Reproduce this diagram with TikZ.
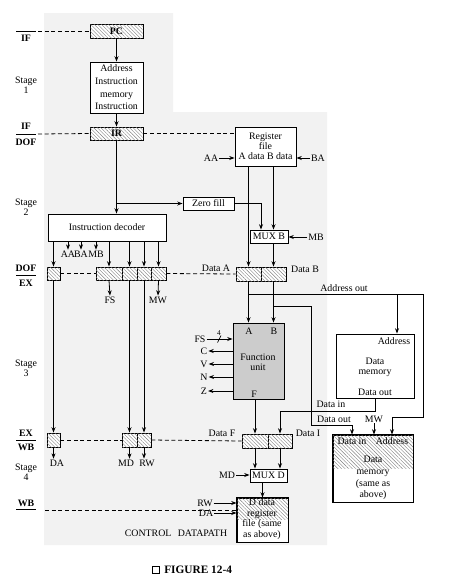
\documentclass[tikz,border=0pt]{standalone}
\usepackage{fontspec}
\setmainfont{Liberation Serif}
\usetikzlibrary{arrows.meta,patterns.meta,calc}
\newcommand\dg{\fontsize{7.4}{8.4}\selectfont}
\newcommand\bx[7]{\node[#6, minimum width={(#4-#2)*0.75pt}, minimum height={(#5-#3)*0.75pt}] (#1) at ({(#2+#4)/2},{(#3+#5)/2}) {#7};}
\tikzset{
 bxs/.style={draw, line width=0.7pt, fill=white, inner sep=0pt, align=center},
 hatchpat/.style={pattern={Lines[angle=-45,distance=1.9pt,line width=0.3pt]}, pattern color=black!50},
 hatch/.style={bxs, postaction={hatchpat}},
 arr/.style={line width=0.6pt, -{Stealth[length=4pt,width=3pt]}},
 ln/.style={line width=0.6pt},
 pipe/.style={line width=0.6pt, dash pattern=on 3pt off 2pt},
 lbl/.style={inner sep=0.6pt, align=center},
 stg/.style={lbl, font=\fontsize{7.4}{7.6}\selectfont},
 sep/.style={lbl, font=\dg\bfseries},
}
\begin{document}
\begin{tikzpicture}[x=0.75pt,y=-0.75pt,font=\dg]
\useasboundingbox (0,0) rectangle (465,575);
\fill[black!5] (44,13) -- (173,13) -- (173,112) -- (327,112) -- (327,545) -- (44,545) -- cycle;

% ---- left stage labels
\node[sep] (lif) at (26,38) {IF};
\draw[ln] (16,31) -- (36,31);
\node[stg] (st1) at (26,85) {Stage\\1};
\node[sep] (lif2) at (26,126) {IF};
\draw[ln] (16,134) -- (36,134);
\node[sep] (ldof) at (26,142) {DOF};
\node[stg] (st2) at (26,207) {Stage\\2};
\node[sep] (ldof2) at (26,268) {DOF};
\draw[ln] (16,275) -- (36,275);
\node[sep] (lex) at (26,283) {EX};
\node[stg] (st3) at (26,368) {Stage\\3};
\node[sep] (lex2) at (26,433) {EX};
\draw[ln] (16,440) -- (36,440);
\node[sep] (lwb) at (26,447) {WB};
\node[stg] (st4) at (26,472) {Stage\\4};
\node[sep] (lwb2) at (26,503) {WB};
\draw[ln] (16,509) -- (36,509);

% ---- boxes
\bx{pc}{90}{24}{143}{38}{hatch,font=\dg\bfseries}{PC}
\bx{imem}{90}{62}{143}{113}{bxs,font=\fontsize{7.4}{9.5}\selectfont}{Address\\Instruction\\memory\\Instruction}
\bx{ir}{90}{127}{143}{140}{hatch,font=\dg\bfseries}{IR}
\bx{regfile}{235}{127}{296}{166}{bxs,font=\fontsize{7.4}{7.6}\selectfont}{Register\\file\\A data B data}
\bx{zf}{183}{197}{234}{210}{bxs}{Zero fill}
\bx{muxb}{250}{230}{288}{243}{bxs}{MUX B}
\bx{dec}{48}{214}{166}{241}{bxs}{Instruction decoder}
\bx{sma}{47}{267}{60}{280}{hatch}{}
\bx{fsr}{96}{267}{122}{280}{hatch}{}
\bx{mdr}{122}{267}{137}{280}{hatch}{}
\bx{rwr}{137}{267}{151}{280}{hatch}{}
\bx{mwr}{151}{267}{166}{280}{hatch}{}
\bx{da}{236}{267}{261}{281}{hatch}{}
\bx{db}{261}{267}{286}{281}{hatch}{}
\bx{fu}{233}{323}{284}{399}{bxs,fill=black!20}{}
\bx{dm}{336}{334}{414}{398}{bxs}{}
\bx{df}{242}{434}{268}{448}{hatch}{}
\bx{di}{268}{434}{292}{448}{hatch}{}
\bx{smb}{47}{433}{60}{447}{hatch}{}
\bx{mdr2}{122}{433}{137}{447}{hatch}{}
\bx{rwr2}{137}{433}{151}{447}{hatch}{}
\bx{muxd}{250}{469}{287}{482}{bxs}{MUX D}
\bx{ddr}{237}{498}{288}{542}{bxs}{}
\bx{dm2}{333}{435}{413}{502}{bxs}{}

% partial hatching
\coordinate (hy1) at (0,519);
\coordinate (hy2) at (0,468);
\fill[hatchpat] (ddr.north west) rectangle (ddr.east |- hy1);
\fill[hatchpat] (dm2.north west) rectangle (dm2.east |- hy2);
\draw[line width=0.7pt] (ddr.north west) rectangle (ddr.south east);
\draw[line width=0.7pt] (dm2.north west) rectangle (dm2.south east);

% texts inside boxes
\node[lbl] (fua) at (249,331) {A};
\node[lbl] (fub) at (274,331) {B};
\node[lbl, font=\fontsize{7.4}{7.6}\selectfont] (futx) at (258,362) {Function\\unit};
\node[lbl] (fuf) at (254,394) {F};
\node[lbl] (dmadr) at (394,341) {Address};
\node[lbl, font=\fontsize{7.4}{7.6}\selectfont] (dmtx) at (375,367) {Data\\memory};
\node[lbl] (dmout) at (375,392) {Data out};
\node[lbl] (d2in) at (352,441) {Data in};
\node[lbl] (d2adr) at (392,441) {Address};
\node[lbl, font=\fontsize{7.4}{8.8}\selectfont] (d2tx) at (373,478) {Data\\memory\\(same as\\above)};
\node[lbl, font=\fontsize{7.4}{8}\selectfont] (ddrtx) at (262,519) {D data\\register\\file (same\\as above)};

% ---- pipeline dashed lines
\draw[pipe] (38,31) -- (pc.west);
\draw[pipe] (38,134) -- (ir.west);
\draw[pipe] (ir.east) -- (regfile.west |- ir.east);
\draw[pipe] (sma.east) -- (fsr.west);
\draw[pipe] (mwr.east) -- (da.west);
\draw[pipe] (smb.east) -- (mdr2.west);
\draw[pipe] (rwr2.east) -- (df.west);
\coordinate (wbx) at (45,510);
\draw[pipe] (wbx) -- (ddr.west |- wbx);

% ---- stage 1
\draw[arr] (pc.south) -- (imem.north);
\draw[arr] (imem.south) -- (ir.north);

% ---- stage 2
\draw[arr] (ir.south) -- (ir.south |- dec.north);
\coordinate (jz) at (ir.south |- zf.west);
\draw[arr] (jz) -- (zf.west);
\coordinate (zfb) at (261,203.5);
\draw[arr] (zf.east) -- (zfb) -- (muxb.north -| zfb);
\draw[arr] (regfile.south -| da) -- (da.north);
\draw[arr] (regfile.south -| db) -- (muxb.north -| db);
\draw[arr] (muxb.south -| db) -- (db.north);
\node[lbl] (laa) at (211,158) {AA};
\draw[arr] (laa.east) -- (regfile.west |- laa);
\node[lbl] (lba) at (318,158) {BA};
\draw[arr] (lba.west) -- (regfile.east |- lba);
\node[lbl] (lmb) at (316,237) {MB};
\draw[arr] (lmb.west) -- (muxb.east |- lmb);

% decoder outputs
\node[lbl] (oaa) at (68,254) {AA};
\node[lbl] (oba) at (81,254) {BA};
\node[lbl] (omb) at (96,254) {MB};
\draw[arr] (dec.south -| sma) -- (sma.north);
\draw[arr] (dec.south -| oaa) -- (oaa.north);
\draw[arr] (dec.south -| oba) -- (oba.north);
\draw[arr] (dec.south -| omb) -- (omb.north);
\draw[arr] (dec.south -| fsr) -- (fsr.north);
\draw[arr] (dec.south -| mdr) -- (mdr.north);
\draw[arr] (dec.south -| rwr) -- (rwr.north);
\draw[arr] (dec.south -| mwr) -- (mwr.north);

% register labels
\node[lbl] (lda1) at (216,268) {Data A};
\node[lbl] (ldb1) at (305,269) {Data B};

% ---- stage 3
\node[lbl] (lfs) at (110,300) {FS};
\node[lbl] (lmw) at (158,300) {MW};
\draw[arr] (fsr.south) -- (lfs.north);
\draw[arr] (mwr.south) -- (lmw.north);
\draw[arr] (sma.south) -- (smb.north);
\draw[arr] (mdr.south) -- (mdr2.north);
\draw[arr] (rwr.south) -- (rwr2.north);

\draw[arr] (da.south) -- (fu.north -| da);
\draw[arr] (db.south) -- (fu.north -| db);

\coordinate (ja) at (248.5,294);
\coordinate (ao) at (423,417);
\coordinate (aj2) at (397,294);
\draw[arr] (ja) -| (ao) -| (dm2.north -| d2adr);
\draw[arr] (aj2) -- (dm.north -| aj2);
\node[lbl] (laddr) at (344,288) {Address out};

\coordinate (jb) at (273.5,306);
\coordinate (dob) at (311,425);
\draw[arr] (jb) -| (dob) -| (dm2.north -| d2in);
\node[lbl] (ldout) at (334,419) {Data out};
\node[lbl] (lmw2) at (374,419) {MW};
\draw[arr] (lmw2.south) -- (dm2.north -| lmw2);

\coordinate (dib) at (280,411);
\draw[arr] (dm.south) |- (dib) -- (di.north);
\node[lbl] (ldin) at (331,404) {Data in};

% function unit side signals
\node[lbl] (lfs2) at (200,339) {FS};
\draw[arr] (lfs2.east) -- (fu.west |- lfs2);
\node[lbl, font=\fontsize{5.5}{6}\selectfont] (l4) at (219,333) {4};
\draw[line width=0.5pt] (217.5,342.5) -- (221,335.5);
\node[lbl] (lc) at (204,351) {C};
\node[lbl] (lv) at (204,364) {V};
\node[lbl] (ln) at (204,377) {N};
\node[lbl] (lz) at (204,391) {Z};
\draw[arr] (fu.west |- lc) -- (lc.east);
\draw[arr] (fu.west |- lv) -- (lv.east);
\draw[arr] (fu.west |- ln) -- (ln.east);
\draw[arr] (fu.west |- lz) -- (lz.east);

\draw[arr] (fu.south -| df) -- (df.north);
\node[lbl] (ldf) at (222,433) {Data F};
\node[lbl] (ldi) at (308,433) {Data I};

% ---- stage 4
\node[lbl] (oda) at (57,463) {DA};
\node[lbl] (omd) at (126,463) {MD};
\node[lbl] (orw) at (147,463) {RW};
\draw[arr] (smb.south) -- (smb.south |- oda.north);
\draw[arr] (mdr2.south) -- (mdr2.south |- omd.north);
\draw[arr] (rwr2.south) -- (rwr2.south |- orw.north);

\draw[arr] (df.south) -- (muxd.north -| df);
\draw[arr] (di.south) -- (muxd.north -| di);
\node[lbl] (lmd3) at (227,475) {MD};
\draw[arr] (lmd3.east) -- (muxd.west |- lmd3);
\draw[arr] (muxd.south -| ddr) -- (ddr.north);
\node[lbl] (lrw3) at (205,503) {RW};
\node[lbl] (lda3) at (206,513) {DA};
\draw[arr] (lrw3.east) -- (ddr.west |- lrw3);
\draw[arr] (lda3.east) -- (ddr.west |- lda3);

\node[lbl] (ctl) at (176,533) {CONTROL\hspace{0.4em} DATAPATH};

% caption
\node[draw, line width=0.5pt, minimum size=5.5pt, inner sep=0pt] (sq) at (156,570) {};
\node[anchor=west, inner sep=0pt, font=\fontsize{8.5}{10}\selectfont\bfseries] (cap) at (164,570) {FIGURE 12-4};
\end{tikzpicture}
\end{document}
